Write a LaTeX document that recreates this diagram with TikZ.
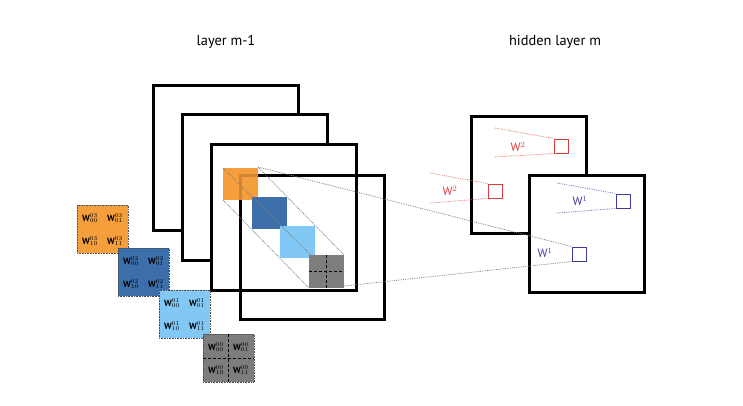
\documentclass[tikz,border=0pt]{standalone}
\usepackage{fontspec}
\setmainfont{PT Sans}
\begin{document}
\begin{tikzpicture}[x=1pt,y=-1pt,
  frame/.style={draw=black,line width=3pt,fill=white},
  dots/.style={densely dotted,line width=0.8pt,draw=gray},
  tile/.style={draw=gray!60!black,densely dotted,line width=0.6pt},
  wt/.style={font=\bfseries\small,inner sep=0pt},
  title/.style={font=\Large}]
\useasboundingbox (0,0) rectangle (743,405);
\definecolor{orng}{RGB}{245,158,60}
\definecolor{dblue}{RGB}{60,110,170}
\definecolor{lblue}{RGB}{130,200,245}
\definecolor{gry}{RGB}{125,125,125}
\definecolor{rd}{RGB}{225,60,60}
\definecolor{bl}{RGB}{60,60,160}
\node[title] (t1) at (226,42) {layer m-1};
\node[title] (t2) at (555,42) {hidden layer m};
% left frames
\draw[frame] (153,85) rectangle (298,230);
\draw[frame] (182,114) rectangle (327,260);
\draw[frame] (211,144) rectangle (356,290);
\fill[orng] (223,168) rectangle (258,200);
\draw[frame,fill=none] (240,175) rectangle (384,319);
\fill[orng,opacity=0.85] (223,168) rectangle (258,200);
\fill[dblue] (252,197) rectangle (287,229);
\fill[lblue] (280,226) rectangle (315,258);
\fill[gry] (309,255) rectangle (344,288);
\draw[densely dashed,black] (326.5,255) -- (326.5,288) (309,271.5) -- (344,271.5);
\coordinate (otr) at (258,167);
\coordinate (obl) at (223,200);
\coordinate (gtr) at (344,255);
\coordinate (gbl) at (309,288);
\coordinate (gbr) at (344,286);
\draw[dots] (otr) -- (gtr);
\draw[dots] (obl) -- (gbl);
\draw[dots] (223,168) -- (344,288);
% right frames
\draw[frame] (471,116) rectangle (586,233);
\draw[frame] (529,175) rectangle (644,292);
\node[draw=rd,line width=1pt,minimum size=14pt,inner sep=0pt] (r1) at (561,146) {};
\node[draw=rd,line width=1pt,minimum size=14pt,inner sep=0pt] (r2) at (495,191) {};
\node[draw=bl,line width=1pt,minimum size=14pt,inner sep=0pt] (b1) at (623,201) {};
\node[draw=bl,line width=1pt,minimum size=14pt,inner sep=0pt] (b2) at (579,254) {};
\draw[dots,draw=rd!70] (495,128) -- (r1.north west) (495,157) -- (r1.south west);
\draw[dots,draw=rd!70] (430,173) -- (r2.north west) (430,203) -- (r2.south west);
\draw[dots,draw=bl!70] (557,183) -- (b1.north west) (557,213) -- (b1.south west);
\draw[dots] (otr) -- (b2.north west);
\draw[dots] (gbr) -- (b2.south west);
\node[text=rd,font=\large] (lr1) at (518,147) {W$^2$};
\node[text=rd,font=\large] (lr2) at (450,191) {W$^2$};
\node[text=bl,font=\large] (lb1) at (580,201) {W$^1$};
\node[text=bl,font=\large] (lb2) at (545,253) {W$^1$};
% weight tiles
\foreach \c/\x/\y/\s in {orng/77/205/03, dblue/118/248/02, lblue/159/290/01, gry/203/334/00}{
  \fill[\c] (\x,\y) rectangle ++(51,48);
  \draw[tile] (\x,\y) rectangle ++(51,48);
  \node[wt] at (\x+13,\y+13) {W$^{\s}_{00}$};
  \node[wt] at (\x+38,\y+13) {W$^{\s}_{01}$};
  \node[wt] at (\x+13,\y+36) {W$^{\s}_{10}$};
  \node[wt] at (\x+38,\y+36) {W$^{\s}_{11}$};
}
\draw[densely dashed,black] (228.5,334) -- (228.5,382) (203,358) -- (254,358);
\end{tikzpicture}
\end{document}
